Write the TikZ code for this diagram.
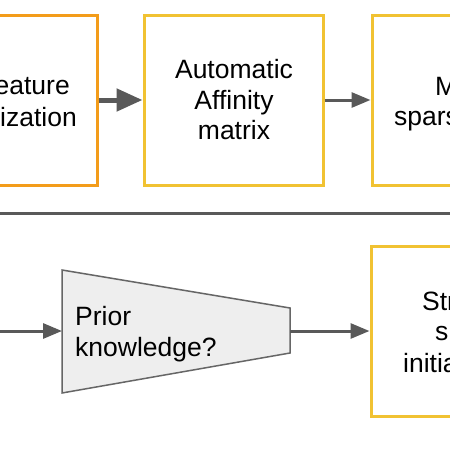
\documentclass[tikz,border=0pt]{standalone}
\usepackage{fontspec}
\setmainfont{Liberation Sans}
\usetikzlibrary{arrows.meta}
\definecolor{boxorange}{HTML}{F39C1A}
\definecolor{boxyellow}{HTML}{F1C232}
\definecolor{arrowgray}{HTML}{595959}
\definecolor{trapfill}{HTML}{EEEEEE}
\definecolor{trapline}{HTML}{666666}
\tikzset{
  obox/.style={draw=boxorange, line width=3pt, minimum height=170pt, inner sep=0pt},
  ybox/.style={draw=boxyellow, line width=3pt, minimum height=170pt, inner sep=0pt},
  lbl/.style={font=\fontsize{26.5}{30.5}\selectfont, inner sep=0pt, text=black},
  bigarrow/.style={draw=arrowgray, line width=5pt, -{Triangle[length=26pt,width=22pt]}},
  smallarrow/.style={draw=arrowgray, line width=3pt, -{Triangle[length=19pt,width=15pt]}},
  sepline/.style={draw=arrowgray, line width=3pt},
  trap/.style={draw=trapline, fill=trapfill, line width=1.5pt, line join=miter}
}
\begin{document}
\begin{tikzpicture}[x=1pt, y=-1pt]
\useasboundingbox (0,0) rectangle (450,450);
\clip (0,0) rectangle (450,450);
% top row boxes
\node[obox, minimum width=200pt] (b1) at (-3,100) {};
\node[ybox, minimum width=179pt] (b2) at (233.5,100) {};
\node[ybox, minimum width=200pt] (b3) at (472,100) {};
% texts
\node[lbl, anchor=base east] (t1a) at (70,94) {eature};
\node[lbl, anchor=base east] (t1b) at (77,126) {ization};
\node[lbl, align=center] (t2) at (234,100) {Automatic\\Affinity\\matrix};
\node[lbl, anchor=base west] (t3a) at (435,95) {M};
\node[lbl, anchor=base west] (t3b) at (394,125) {spars};
% arrows top
\draw[bigarrow] (b1.east) -- (b2.west);
\draw[smallarrow] (b2.east) -- (b3.west);
% separator
\coordinate (sepL) at (-5,213);
\coordinate (sepR) at (455,213);
\draw[sepline] (sepL) -- (sepR);
% bottom row
\coordinate (tpTL) at (62,270);
\coordinate (tpBL) at (62,393);
\coordinate (tpTR) at (290,308);
\coordinate (tpBR) at (290,353);
\coordinate (tpL) at (62,331);
\coordinate (tpR) at (290,331);
\draw[trap] (tpTL) -- (tpTR) -- (tpBR) -- (tpBL) -- cycle;
\node[lbl, anchor=base west] (p1) at (75,325) {Prior};
\node[lbl, anchor=base west] (p2) at (75,356) {knowledge?};
\node[ybox, minimum width=200pt] (b4) at (471,331) {};
\node[lbl, anchor=base west] (t4a) at (422,310) {Str};
\node[lbl, anchor=base west] (t4b) at (435,340) {s};
\node[lbl, anchor=base west] (t4c) at (403,372) {initia};
\coordinate (inL) at (-5,331);
\draw[smallarrow] (inL) -- (tpL);
\draw[smallarrow] (tpR) -- (b4.west);
\end{tikzpicture}
\end{document}
